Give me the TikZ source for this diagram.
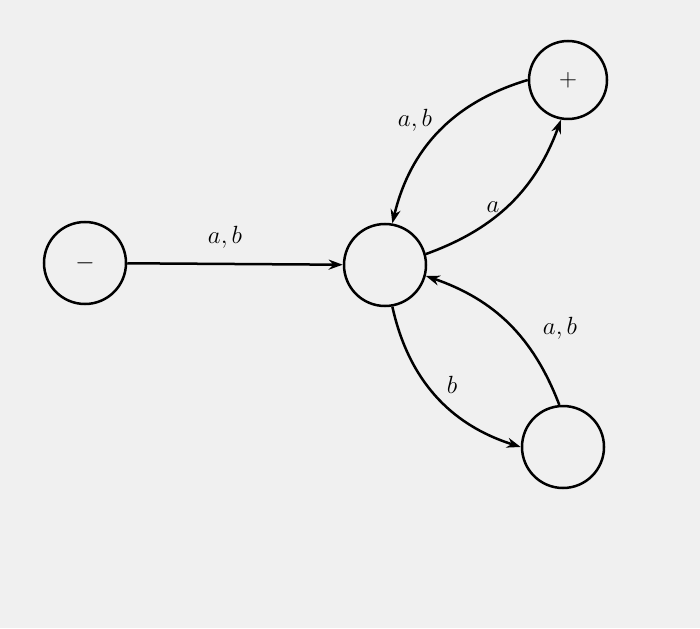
\documentclass[tikz,border=0pt]{standalone}
\usetikzlibrary{arrows.meta}
\begin{document}
\begin{tikzpicture}[x=1pt,y=-1pt,
  st/.style={circle,draw,line width=2.5pt,minimum size=82pt,inner sep=0pt,font=\fontsize{26}{28}\selectfont},
  ed/.style={line width=2.5pt,-{Stealth[length=14pt,width=10pt]}},
  lb/.style={font=\fontsize{24}{26}\selectfont}]
\fill[gray!12] (0,0) rectangle (700,628);
\useasboundingbox (0,0) rectangle (700,628);
\node[st] (m) at (85,263) {$-$};
\node[st] (c) at (385,265) {};
\node[st,minimum size=78pt] (p) at (568,80) {$+$};
\node[st] (b) at (563,447) {};
\draw[ed] (m) -- (c);
\node[lb] (l1) at (225,237) {$a,b$};
\draw[ed] (p.180) to[bend right=30] (c.80);
\node[lb] (l2) at (415,120) {$a,b$};
\draw[ed] (c.15) to[bend right=25] (p.260);
\node[lb] (l3) at (493,207) {$a$};
\draw[ed] (b.95) to[bend right=25] (c.-15);
\node[lb] (l4) at (560,328) {$a,b$};
\draw[ed] (c.-80) to[bend right=30] (b.180);
\node[lb] (l5) at (452,385) {$b$};
\end{tikzpicture}
\end{document}
